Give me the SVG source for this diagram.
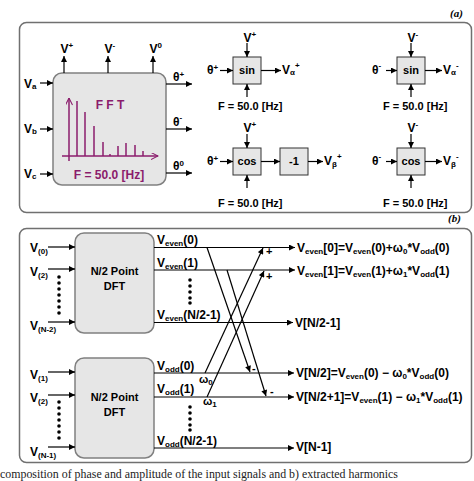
<svg xmlns="http://www.w3.org/2000/svg" width="474" height="481" viewBox="0 0 474 481">
<defs>
<marker id="ah" viewBox="0 0 10 10" refX="10" refY="5" markerWidth="7" markerHeight="6" markerUnits="userSpaceOnUse" orient="auto"><path d="M0,0L10,5L0,10z" fill="#000"/></marker>
<marker id="ahp" viewBox="0 0 10 10" refX="10" refY="5" markerWidth="8" markerHeight="7" markerUnits="userSpaceOnUse" orient="auto"><path d="M0,0L10,5L0,10" fill="none" stroke="#8b1c6c" stroke-width="1.5"/></marker>
<style>
.t{font-family:"Liberation Sans",Arial,sans-serif;font-weight:bold;font-size:12px;fill:#000}
.m{font-size:11px}
.s{font-size:8px}
.ln{stroke:#000;stroke-width:1.2;fill:none}
.a{marker-end:url(#ah)}
.panel{fill:#fff;stroke:#707070;stroke-width:1.5}
.big{fill:#e6e6e6;stroke:#808080;stroke-width:1.5}
.blk{fill:#e6e6e6;stroke:#333;stroke-width:1}
.p{stroke:#8b1c6c;stroke-width:1.5;fill:none}
.pt{fill:#8b1c6c}
.lab{font-family:"Liberation Serif","Times New Roman",serif;font-style:italic;font-weight:bold;font-size:11px}
</style>
</defs>

<!-- Panel (a) -->
<rect class="panel" x="19.5" y="22.5" width="452" height="190" rx="7"/>
<text class="lab" x="450" y="17">(a)</text>

<g id="fft">
<rect class="big" x="53" y="73" width="113" height="112" rx="9"/>
<line class="p" x1="62" y1="156" x2="158" y2="156" marker-end="url(#ahp)"/>
<line class="p" x1="69" y1="161" x2="69" y2="98" marker-end="url(#ahp)"/>
<g class="p">
<line x1="77" y1="156" x2="77" y2="101"/>
<line x1="85" y1="156" x2="85" y2="112"/>
<line x1="94" y1="156" x2="94" y2="126"/>
<line x1="103" y1="156" x2="103" y2="142"/>
<line x1="110" y1="156" x2="110" y2="154"/>
<line x1="118" y1="156" x2="118" y2="146"/>
<line x1="126" y1="156" x2="126" y2="143"/>
<line x1="135" y1="156" x2="135" y2="145"/>
<line x1="143" y1="156" x2="143" y2="151"/>
</g>
<text class="t pt" x="110" y="109" text-anchor="middle">F F T</text>
<text class="t pt" x="109" y="179" text-anchor="middle">F = 50.0 [Hz]</text>
</g>

<g id="fft-labels">
<text class="t" x="24" y="88">V<tspan class="s" dy="1">a</tspan></text>
<text class="t" x="24" y="133">V<tspan class="s" dy="1">b</tspan></text>
<text class="t" x="24" y="178">V<tspan class="s" dy="1">c</tspan></text>
<text class="t" x="60.5" y="53">V<tspan class="s" dy="-5">+</tspan></text>
<text class="t" x="104.5" y="53">V<tspan class="s" dy="-5">-</tspan></text>
<text class="t" x="149.5" y="53">V<tspan class="s" dy="-5">0</tspan></text>
<text class="t" x="173" y="81">θ<tspan class="s" dy="-4">+</tspan></text>
<text class="t" x="173" y="126">θ<tspan class="s" dy="-6">-</tspan></text>
<text class="t" x="173" y="170">θ<tspan class="s" dy="-4">0</tspan></text>
</g>

<g id="sin-plus">
<rect class="blk" x="233" y="57" width="28" height="27"/>
<text class="t m" x="247" y="74" text-anchor="middle">sin</text>
<text class="t" x="243.5" y="42">V<tspan class="s" dy="-5">+</tspan></text>
<text class="t" x="207" y="74">θ<tspan class="s" dy="-4">+</tspan></text>
<text class="t" x="282" y="74">V<tspan class="s" dy="1">α</tspan><tspan class="s" dy="-7">+</tspan></text>
<text class="t m" x="218" y="110">F = 50.0 [Hz]</text>
</g>
<g id="sin-minus">
<rect class="blk" x="397" y="57" width="28" height="27"/>
<text class="t m" x="411" y="74" text-anchor="middle">sin</text>
<text class="t" x="407.5" y="42">V<tspan class="s" dy="-5">-</tspan></text>
<text class="t" x="372" y="74">θ<tspan class="s" dy="-6">-</tspan></text>
<text class="t" x="443" y="74">V<tspan class="s" dy="1">α</tspan><tspan class="s" dy="-7">-</tspan></text>
<text class="t m" x="383" y="110">F = 50.0 [Hz]</text>
</g>
<g id="cos-plus">
<rect class="blk" x="233" y="148" width="28" height="27"/>
<text class="t m" x="247" y="165" text-anchor="middle">cos</text>
<text class="t" x="243.5" y="132">V<tspan class="s" dy="-5">+</tspan></text>
<text class="t" x="207" y="165">θ<tspan class="s" dy="-4">+</tspan></text>
<text class="t m" x="218" y="207">F = 50.0 [Hz]</text>
</g>
<g id="neg">
<rect class="blk" x="280" y="148" width="28" height="27"/>
<text class="t m" x="294" y="165" text-anchor="middle">-1</text>
<text class="t" x="324" y="165">V<tspan class="s" dy="2">β</tspan><tspan class="s" dy="-8">+</tspan></text>
</g>
<g id="cos-minus">
<rect class="blk" x="397" y="148" width="28" height="27"/>
<text class="t m" x="411" y="165" text-anchor="middle">cos</text>
<text class="t" x="407.5" y="132">V<tspan class="s" dy="-5">-</tspan></text>
<text class="t" x="372" y="165">θ<tspan class="s" dy="-6">-</tspan></text>
<text class="t" x="443" y="165">V<tspan class="s" dy="2">β</tspan><tspan class="s" dy="-8">-</tspan></text>
<text class="t m" x="383" y="207">F = 50.0 [Hz]</text>
</g>

<!-- Panel (b) -->
<rect class="panel" x="19.5" y="228.5" width="452" height="234" rx="7"/>
<text class="lab" x="448" y="222">(b)</text>

<g id="dft-even">
<rect class="big" x="75" y="233" width="79" height="100" rx="9"/>
<text class="t m" x="114.5" y="275" text-anchor="middle">N/2 Point</text>
<text class="t m" x="114.5" y="290" text-anchor="middle">DFT</text>
</g>
<g id="dft-odd">
<rect class="big" x="75" y="358" width="79" height="100" rx="9"/>
<text class="t m" x="114.5" y="401" text-anchor="middle">N/2 Point</text>
<text class="t m" x="114.5" y="416" text-anchor="middle">DFT</text>
</g>

<g id="b-labels">
<text class="t" x="30" y="252">V<tspan class="s" dy="2">(0)</tspan></text>
<text class="t" x="30" y="276">V<tspan class="s" dy="2">(2)</tspan></text>
<text class="t" x="30" y="330">V<tspan class="s" dy="2">(N-2)</tspan></text>
<text class="t" x="30" y="379">V<tspan class="s" dy="2">(1)</tspan></text>
<text class="t" x="30" y="402">V<tspan class="s" dy="2">(2)</tspan></text>
<text class="t" x="30" y="456">V<tspan class="s" dy="2">(N-1)</tspan></text>
<text class="t" x="157" y="244">V<tspan class="s" dy="2">even</tspan><tspan dy="-2">(0)</tspan></text>
<text class="t" x="157" y="267">V<tspan class="s" dy="2">even</tspan><tspan dy="-2">(1)</tspan></text>
<text class="t" x="157" y="319">V<tspan class="s" dy="2">even</tspan><tspan dy="-2">(N/2-1)</tspan></text>
<text class="t" x="157" y="370">V<tspan class="s" dy="2">odd</tspan><tspan dy="-2">(0)</tspan></text>
<text class="t" x="157" y="393">V<tspan class="s" dy="2">odd</tspan><tspan dy="-2">(1)</tspan></text>
<text class="t" x="157" y="445">V<tspan class="s" dy="2">odd</tspan><tspan dy="-2">(N/2-1)</tspan></text>
<text class="t m" x="199" y="383">ω<tspan class="s" dy="2">0</tspan></text>
<text class="t m" x="203" y="405">ω<tspan class="s" dy="2">1</tspan></text>
<text class="t m" x="266" y="255">+</text>
<text class="t m" x="266" y="280">+</text>
<text class="t m" x="252" y="372">-</text>
<text class="t m" x="270" y="395">-</text>
<text class="t" x="297" y="252">V<tspan class="s" dy="2">even</tspan><tspan dy="-2">[0]=V</tspan><tspan class="s" dy="2">even</tspan><tspan dy="-2">(0)+ω</tspan><tspan class="s" dy="2">0</tspan><tspan dy="-2">*V</tspan><tspan class="s" dy="2">odd</tspan><tspan dy="-2">(0)</tspan></text>
<text class="t" x="297" y="275">V<tspan class="s" dy="2">even</tspan><tspan dy="-2">[1]=V</tspan><tspan class="s" dy="2">even</tspan><tspan dy="-2">(1)+ω</tspan><tspan class="s" dy="2">1</tspan><tspan dy="-2">*V</tspan><tspan class="s" dy="2">odd</tspan><tspan dy="-2">(1)</tspan></text>
<text class="t" x="295" y="327">V[N/2-1]</text>
<text class="t" x="296" y="377">V[N/2]=V<tspan class="s" dy="2">even</tspan><tspan dy="-2">(0) − ω</tspan><tspan class="s" dy="2">0</tspan><tspan dy="-2">*V</tspan><tspan class="s" dy="2">odd</tspan><tspan dy="-2">(0)</tspan></text>
<text class="t" x="296" y="401">V[N/2+1]=V<tspan class="s" dy="2">even</tspan><tspan dy="-2">(1) − ω</tspan><tspan class="s" dy="2">1</tspan><tspan dy="-2">*V</tspan><tspan class="s" dy="2">odd</tspan><tspan dy="-2">(1)</tspan></text>
<text class="t" x="296" y="451">V[N-1]</text>
</g>

<g id="dots">
<circle cx="59" cy="277" r="1.8"/><circle cx="59" cy="283" r="1.8"/><circle cx="59" cy="289" r="1.8"/><circle cx="59" cy="295" r="1.8"/><circle cx="59" cy="301" r="1.8"/><circle cx="59" cy="307" r="1.8"/><circle cx="59" cy="313" r="1.8"/>
<circle cx="190" cy="280" r="1.8"/><circle cx="190" cy="286" r="1.8"/><circle cx="190" cy="292" r="1.8"/><circle cx="190" cy="298" r="1.8"/><circle cx="190" cy="303" r="1.8"/>
<circle cx="59" cy="402" r="1.8"/><circle cx="59" cy="408" r="1.8"/><circle cx="59" cy="414" r="1.8"/><circle cx="59" cy="420" r="1.8"/><circle cx="59" cy="426" r="1.8"/><circle cx="59" cy="432" r="1.8"/><circle cx="59" cy="438" r="1.8"/>
<circle cx="190" cy="407" r="1.8"/><circle cx="190" cy="413" r="1.8"/><circle cx="190" cy="419" r="1.8"/><circle cx="190" cy="425" r="1.8"/><circle cx="190" cy="430" r="1.8"/>
</g>

<g id="connectors" class="ln">
<line class="a" x1="40" y1="83" x2="53" y2="83"/>
<line class="a" x1="40" y1="129" x2="53" y2="129"/>
<line class="a" x1="40" y1="174" x2="53" y2="174"/>
<line class="a" x1="64" y1="73" x2="64" y2="56"/>
<line class="a" x1="108" y1="73" x2="108" y2="56"/>
<line class="a" x1="153" y1="73" x2="153" y2="56"/>
<line class="a" x1="166" y1="84" x2="192" y2="84"/>
<line class="a" x1="166" y1="129" x2="192" y2="129"/>
<line class="a" x1="166" y1="173" x2="192" y2="173"/>
<line class="a" x1="247" y1="43" x2="247" y2="57"/>
<line class="a" x1="220" y1="70.5" x2="233" y2="70.5"/>
<line class="a" x1="247" y1="97" x2="247" y2="84"/>
<line class="a" x1="261" y1="70.5" x2="281" y2="70.5"/>
<line class="a" x1="411" y1="43" x2="411" y2="57"/>
<line class="a" x1="386" y1="70.5" x2="397" y2="70.5"/>
<line class="a" x1="411" y1="97" x2="411" y2="84"/>
<line class="a" x1="425" y1="70.5" x2="442" y2="70.5"/>
<line class="a" x1="247" y1="134" x2="247" y2="148"/>
<line class="a" x1="220" y1="161.5" x2="233" y2="161.5"/>
<line class="a" x1="247" y1="188" x2="247" y2="175"/>
<line class="a" x1="261" y1="161.5" x2="280" y2="161.5"/>
<line class="a" x1="308" y1="161.5" x2="323" y2="161.5"/>
<line class="a" x1="411" y1="134" x2="411" y2="148"/>
<line class="a" x1="386" y1="161.5" x2="397" y2="161.5"/>
<line class="a" x1="411" y1="188" x2="411" y2="175"/>
<line class="a" x1="425" y1="161.5" x2="442" y2="161.5"/>

<line class="a" x1="48" y1="247" x2="75" y2="247"/>
<line class="a" x1="48" y1="269" x2="75" y2="269"/>
<line class="a" x1="48" y1="322" x2="75" y2="322"/>
<line class="a" x1="48" y1="372" x2="75" y2="372"/>
<line class="a" x1="48" y1="395" x2="75" y2="395"/>
<line class="a" x1="48" y1="447" x2="75" y2="447"/>
<line class="a" x1="154" y1="247.5" x2="295" y2="247.5"/>
<line class="a" x1="154" y1="270" x2="295" y2="270"/>
<line class="a" x1="154" y1="322.5" x2="293" y2="322.5"/>
<line class="a" x1="154" y1="373" x2="294" y2="373"/>
<line class="a" x1="154" y1="397" x2="294" y2="397"/>
<line class="a" x1="154" y1="448" x2="294" y2="448"/>
<line class="a" x1="207" y1="247.5" x2="250" y2="372"/>
<line class="a" x1="227" y1="270" x2="266" y2="396"/>
<line class="a" x1="205" y1="373" x2="263" y2="248"/>
<line class="a" x1="207" y1="397" x2="264" y2="271"/>
</g>

<text x="0" y="478" font-family="Liberation Serif,'Times New Roman',serif" font-size="12" fill="#222" textLength="398" lengthAdjust="spacingAndGlyphs">composition of phase and amplitude of the input signals and b) extracted harmonics</text>
</svg>
